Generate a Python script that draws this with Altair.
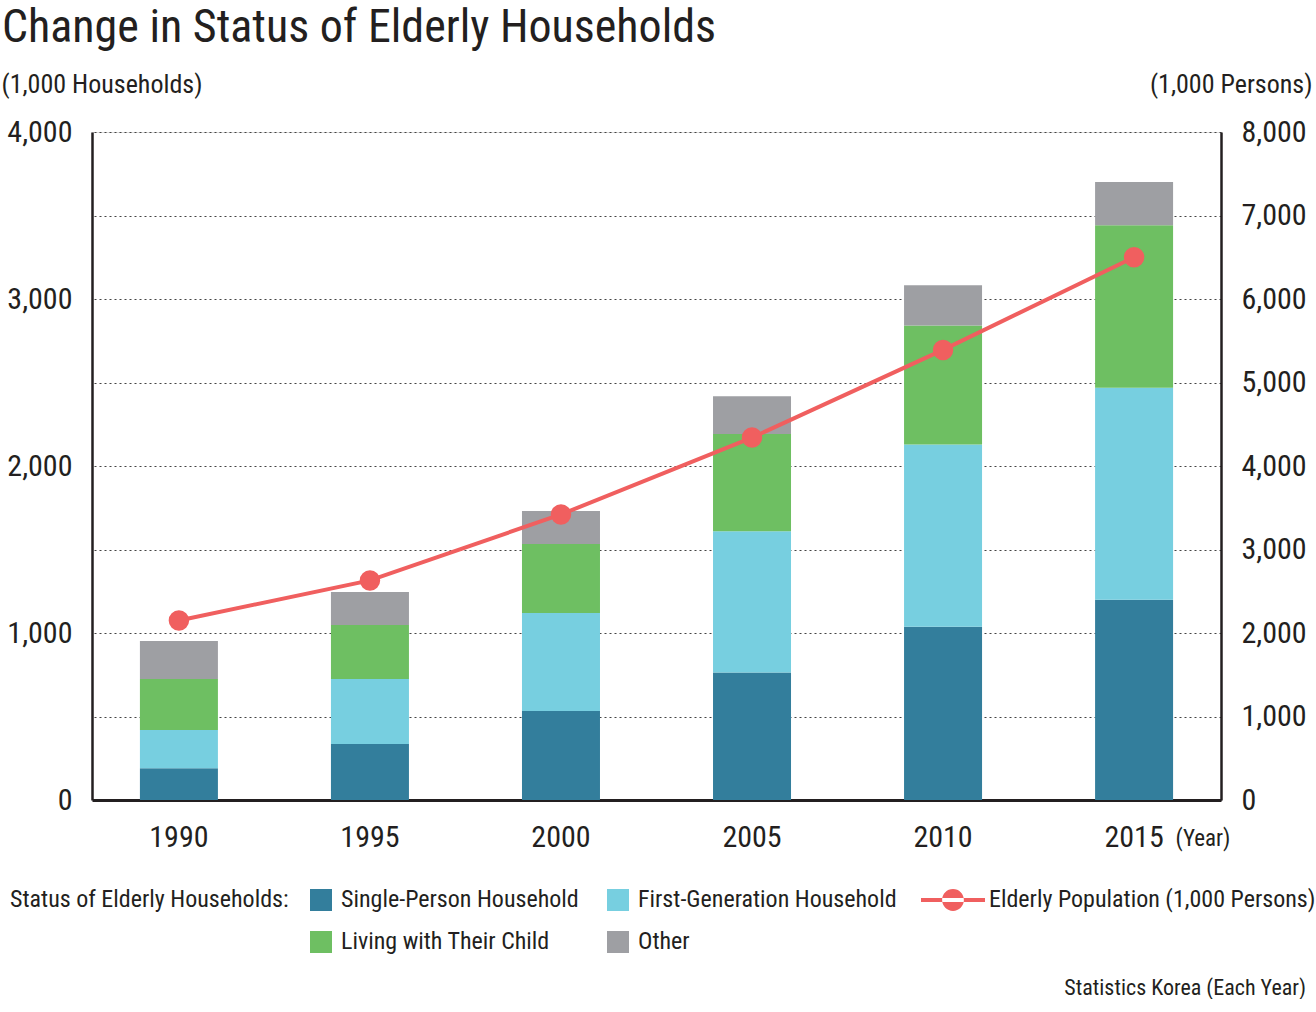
import altair as alt
import pandas as pd

# Census years and household counts (1,000 households) by household type
years = ["1990", "1995", "2000", "2005", "2010", "2015"]
single_person = [190, 335, 533, 763, 1038, 1199]
first_generation = [229, 390, 587, 847, 1090, 1270]
with_child = [306, 323, 413, 581, 713, 972]
other = [227, 198, 198, 227, 242, 259]

# Elderly population (1,000 persons)
elderly_population = [2150, 2630, 3420, 4340, 5390, 6500]

categories = [
    "Single-Person Household",
    "First-Generation Household",
    "Living with Their Child",
    "Other",
]
colors = ["#337E9C", "#77CFE0", "#6EBF62", "#9E9FA3"]
line_name = "Elderly Population (1,000 Persons)"
line_color = "#F05F5F"
source_note = "Statistics Korea (Each Year)"

FONT = "Roboto Condensed, Liberation Sans Narrow, DejaVu Sans Condensed, Roboto, sans-serif"
INK = "#231F20"

rows = []
for series, values in zip(categories, [single_person, first_generation, with_child, other]):
    for year, v in zip(years, values):
        rows.append({"year": year, "type": series, "households": v,
                     "rank": categories.index(series)})
households = pd.DataFrame(rows)
population = pd.DataFrame({"year": years, "persons": elderly_population,
                           "series": [line_name] * len(years)})

x_enc = alt.X(
    "year:N",
    sort=years,
    scale=alt.Scale(paddingInner=0.59, paddingOuter=0.25),
    axis=alt.Axis(
        title="(Year)", titleX=1083, titleY=38, titleAlign="left",
        titleBaseline="middle", titleFontSize=23, titleFontWeight="normal",
        titleFont=FONT, titleColor=INK,
        labelAngle=0, labelFontSize=30, labelFont=FONT, labelColor=INK,
        labelPadding=22, ticks=False, domainColor=INK, domainWidth=3,
    ),
)

bars = alt.Chart(households).mark_bar(size=78).encode(
    x=x_enc,
    y=alt.Y(
        "households:Q",
        stack="zero",
        scale=alt.Scale(domain=[0, 4000], nice=False),
        axis=alt.Axis(
            values=[0, 1000, 2000, 3000, 4000], format=",.0f", grid=False,
            ticks=False, domainColor=INK, domainWidth=2.5,
            labelFontSize=30, labelFont=FONT, labelColor=INK, labelPadding=20,
            title="(1,000 Households)", titleAngle=0, titleX=-91, titleY=-48,
            titleAlign="left", titleBaseline="middle", titleFontSize=26,
            titleFontWeight="normal", titleFont=FONT, titleColor=INK,
        ),
    ),
    color=alt.Color(
        "type:N",
        scale=alt.Scale(domain=categories, range=colors),
        legend=alt.Legend(
            title="Status of Elderly Households:", orient="none",
            legendX=-82, legendY=756, direction="horizontal", columns=2,
            titleOrient="left", titleAnchor="start", titleBaseline="top",
            titleFontSize=24, titleFont=FONT, titleLimit=400,
            titleFontWeight="normal", titleColor=INK, titlePadding=20,
            symbolType="square", symbolSize=484, symbolStrokeWidth=0,
            labelFontSize=24, labelFont=FONT, labelColor=INK, labelOffset=8,
            labelLimit=400, columnPadding=27, rowPadding=18,
        ),
    ),
    order=alt.Order("rank:Q"),
)

right_axis = alt.Axis(
    values=list(range(0, 8001, 1000)), format=",.0f", orient="right",
    grid=True, gridDash=[2, 3], gridColor="#444444", gridWidth=1,
    ticks=False, domainColor=INK, domainWidth=2.5,
    labelFontSize=30, labelFont=FONT, labelColor=INK, labelPadding=20,
    title="(1,000 Persons)", titleAngle=0, titleX=91, titleY=-48,
    titleAlign="right", titleBaseline="middle", titleFontSize=26,
    titleFontWeight="normal", titleFont=FONT, titleColor=INK,
)
y_persons = alt.Y("persons:Q", scale=alt.Scale(domain=[0, 8000], nice=False),
                  axis=right_axis)

line = alt.Chart(population).mark_line(strokeWidth=4, color=line_color).encode(
    x=x_enc, y=y_persons,
)

legend_symbol = ("M-1,-0.06L1,-0.06L1,0.06L-1,0.06Z "
                 "M-0.34,0A0.34,0.34 0 1,0 0.34,0A0.34,0.34 0 1,0 -0.34,0Z")
points = alt.Chart(population).mark_point(filled=True, size=420, opacity=1).encode(
    x=x_enc, y=y_persons,
    color=alt.Color(
        "series:N",
        scale=alt.Scale(domain=[line_name], range=[line_color]),
        legend=alt.Legend(
            title=None, orient="none", legendX=829, legendY=736,
            symbolType=legend_symbol, symbolSize=4096, symbolStrokeWidth=0,
            labelFontSize=24, labelFont=FONT, labelColor=INK, labelOffset=4,
            labelLimit=400,
        ),
    ),
)

source = alt.Chart(pd.DataFrame({"note": [source_note]})).mark_text(
    align="right", baseline="middle", fontSize=22, font=FONT, color=INK,
).encode(text="note:N", x=alt.value(1214), y=alt.value(856))

chart = alt.layer(
    bars, alt.layer(line, points), source
).resolve_scale(
    y="independent", color="independent"
).properties(
    width=1129, height=668,
    padding={"left": 1, "top": 5, "right": 0, "bottom": 0},
    title=alt.TitleParams(
        "Change in Status of Elderly Households", anchor="start", dx=1,
        fontSize=46, font=FONT, fontWeight="normal", color=INK, offset=19,
    ),
).configure_view(stroke=None).configure(background="white")

chart.save("out.html", embed_options={"renderer": "svg", "actions": False})
